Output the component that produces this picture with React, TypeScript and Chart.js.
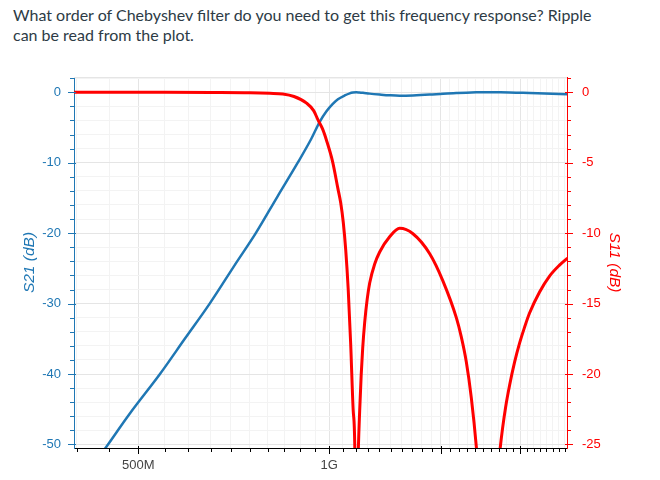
import React, { useEffect, useRef } from 'react';
import { Chart, registerables } from 'chart.js';

Chart.register(...registerables);

// ---- Data (frequency in GHz, levels in dB) ----
const s21Freq = [0.44, 0.448, 0.485, 0.541, 0.592, 0.648, 0.71, 0.766, 0.83, 0.892, 0.937, 0.966, 0.99, 1.013, 1.032, 1.058, 1.077, 1.09, 1.103, 1.115, 1.13, 1.158, 1.201, 1.245, 1.291, 1.355, 1.44, 1.511, 1.586, 1.645, 1.705, 1.777, 1.86, 1.924, 1.995, 2.069, 2.185, 2.372];
const s21dB = [-51, -50, -45.6, -40, -35, -30, -24.5, -20, -14.7, -10, -6.6, -4.2, -2.7, -1.65, -1.0, -0.45, -0.15, -0.04, 0, -0.03, -0.08, -0.19, -0.32, -0.43, -0.49, -0.45, -0.33, -0.2, -0.11, -0.05, -0.01, 0, -0.01, -0.03, -0.07, -0.11, -0.19, -0.29];

const s11Freq = [0.396, 0.55, 0.65, 0.75, 0.806, 0.845, 0.88, 0.921, 0.945, 0.96, 0.976, 0.99, 1.012, 1.032, 1.0426, 1.0521, 1.0617, 1.0713, 1.081, 1.0909, 1.098, 1.103, 1.1075, 1.1108, 1.1168, 1.1229, 1.1291, 1.1374, 1.1477, 1.1581, 1.1793, 1.2009, 1.2451, 1.2912, 1.355, 1.44, 1.511, 1.586, 1.6152, 1.6449, 1.6749, 1.7056, 1.723, 1.777, 1.8223, 1.8424, 1.8604, 1.876, 1.8967, 1.9243, 1.9594, 1.9953, 2.032, 2.069, 2.1456, 2.2247, 2.3067, 2.3745];
const s11dB = [0, 0, -0.01, -0.03, -0.07, -0.12, -0.3, -0.77, -1.3, -1.96, -2.6, -3.4, -4.9, -6.84, -7.86, -9.21, -11.2, -14.0, -17.9, -22.6, -26.2, -45, -29, -25.76, -22.6, -20.08, -18.16, -16.31, -14.68, -13.54, -12.19, -11.34, -10.26, -9.66, -10.04, -11.46, -13.4, -16.0, -17.38, -19.16, -21.71, -25.19, -27.89, -60, -29.7, -27.1, -25.19, -23.84, -22.35, -20.8, -19.16, -17.81, -16.67, -15.67, -14.18, -13.05, -12.27, -11.77];

// ---- Axis ticks ----
const xMajorTicks = [0.5, 1, 1.5, 2];
const xTickLabels = ['500M', '1G', '', ''];
const xMinorStep = 0.05;
const xMinorFirst = 0.4;
const xMinorLast = 2.35;
const s21MajorStep = 10;
const s21MinorStep = 2;
const s11MajorStep = 5;
const s11MinorStep = 1;

const BLUE = '#1f77b4';
const RED = '#ff0000';
const FONT = "'Liberation Sans', Arial, Helvetica, sans-serif";

const xTicks: number[] = [];
for (let i = Math.round(xMinorFirst / xMinorStep); i <= Math.round(xMinorLast / xMinorStep); i++) {
  xTicks.push(Math.round(i * xMinorStep * 100) / 100);
}
const isXMajor = (v: number) => xMajorTicks.some((m) => Math.abs(m - v) < 1e-6);
const xLabel = (v: number) => {
  const i = xMajorTicks.findIndex((m) => Math.abs(m - v) < 1e-6);
  return i >= 0 ? xTickLabels[i] : '';
};
const rangeTicks = (lo: number, hi: number, step: number) => {
  const out: number[] = [];
  for (let v = lo; v <= hi + 1e-9; v += step) out.push(Math.round(v * 1000) / 1000);
  return out;
};
const s21Ticks = rangeTicks(-50, 2, s21MinorStep);
const s11Ticks = rangeTicks(-25, 1, s11MinorStep);

const decor = {
  id: 'decor',
  beforeDatasetsDraw(chart: any) {
    const { ctx, chartArea: a } = chart;
    ctx.save();
    ctx.strokeStyle = '#e5e5e5';
    ctx.lineWidth = 1;
    ctx.beginPath();
    ctx.moveTo(a.left, Math.round(a.top) + 0.5);
    ctx.lineTo(a.right, Math.round(a.top) + 0.5);
    ctx.stroke();
    ctx.restore();
  },
  afterDraw(chart: any) {
    const { ctx, chartArea: a, scales } = chart;
    const seg = (x1: number, y1: number, x2: number, y2: number) => {
      ctx.beginPath();
      ctx.moveTo(x1, y1);
      ctx.lineTo(x2, y2);
      ctx.stroke();
    };
    ctx.save();
    ctx.lineWidth = 1;
    ctx.strokeStyle = '#000';
    const xs = scales.x;
    const by = Math.round(a.bottom);
    xs.ticks.forEach((t: any) => {
      const px = Math.round(xs.getPixelForValue(t.value)) + 0.5;
      const major = isXMajor(t.value);
      seg(px, by - (major ? 2 : 0), px, by + (major ? 6 : 4));
    });
    ctx.strokeStyle = BLUE;
    const ys = scales.y;
    const lx = Math.round(a.left);
    ys.ticks.forEach((t: any) => {
      const py = Math.round(ys.getPixelForValue(t.value)) + 0.5;
      const major = t.value % s21MajorStep === 0;
      seg(lx + (major ? 2 : 0), py, lx - (major ? 6 : 4), py);
    });
    ctx.strokeStyle = RED;
    const y1 = scales.y1;
    const rx = Math.round(a.right);
    y1.ticks.forEach((t: any) => {
      const py = Math.round(y1.getPixelForValue(t.value)) + 0.5;
      const major = t.value % s11MajorStep === 0;
      seg(rx - (major ? 2 : 0), py, rx + (major ? 6 : 4), py);
    });
    ctx.restore();
  },
};

export default function App() {
  const ref = useRef<HTMLCanvasElement | null>(null);

  useEffect(() => {
    if (!ref.current) return;
    const chart = new Chart(ref.current, {
      type: 'line',
      data: {
        datasets: [
          {
            label: 'S11',
            data: s11Freq.map((f, i) => ({ x: f, y: s11dB[i] })),
            yAxisID: 'y1',
            borderColor: RED,
            borderWidth: 3,
            pointRadius: 0,
            fill: false,
            cubicInterpolationMode: 'monotone',
            clip: 0,
            order: 0,
          },
          {
            label: 'S21',
            data: s21Freq.map((f, i) => ({ x: f, y: s21dB[i] })),
            yAxisID: 'y',
            borderColor: BLUE,
            borderWidth: 2.5,
            pointRadius: 0,
            fill: false,
            cubicInterpolationMode: 'monotone',
            clip: 0,
            order: 1,
          },
        ],
      },
      options: {
        animation: false,
        responsive: false,
        maintainAspectRatio: false,
        layout: { padding: { top: 77, left: 0, right: 0, bottom: 0 } },
        plugins: {
          legend: { display: false },
          tooltip: { enabled: false },
          title: { display: false },
        },
        scales: {
          x: {
            type: 'logarithmic',
            position: 'bottom',
            min: 0.396,
            max: 2.37,
            afterBuildTicks: (s: any) => {
              s.ticks = xTicks.map((v) => ({ value: v }));
            },
            afterFit: (s: any) => {
              s.height = 32;
            },
            ticks: {
              autoSkip: false,
              maxRotation: 0,
              minRotation: 0,
              padding: 10,
              color: '#444444',
              font: { family: FONT, size: 13 },
              callback: (v: any) => xLabel(Number(v)),
            },
            grid: {
              drawTicks: false,
              color: (c: any) => (c.tick && isXMajor(c.tick.value) ? '#e5e5e5' : '#f3f3f3'),
              lineWidth: 1,
            },
            border: { display: true, color: '#000', width: 1 },
          },
          y: {
            type: 'linear',
            position: 'left',
            bounds: 'data',
            min: -50.5,
            max: 2.17,
            afterBuildTicks: (s: any) => {
              s.ticks = s21Ticks.map((v) => ({ value: v }));
            },
            afterFit: (s: any) => {
              s.width = 74;
            },
            ticks: {
              autoSkip: false,
              padding: 13,
              color: BLUE,
              font: { family: FONT, size: 13 },
              callback: (v: any) => (Number(v) % s21MajorStep === 0 ? String(v) : ''),
            },
            grid: {
              drawTicks: false,
              color: (c: any) => (c.tick && c.tick.value % s21MajorStep === 0 ? '#e5e5e5' : '#f3f3f3'),
            },
            border: { display: true, color: BLUE, width: 1 },
            title: {
              display: true,
              text: 'S21 (dB)',
              color: BLUE,
              font: { family: FONT, size: 15.5, style: 'italic' },
              padding: { top: 20, bottom: 0 },
            },
          },
          y1: {
            type: 'linear',
            position: 'right',
            bounds: 'data',
            min: -25.25,
            max: 1.085,
            afterBuildTicks: (s: any) => {
              s.ticks = s11Ticks.map((v) => ({ value: v }));
            },
            afterFit: (s: any) => {
              s.width = 93;
            },
            ticks: {
              autoSkip: false,
              padding: 15,
              color: RED,
              font: { family: FONT, size: 13 },
              callback: (v: any) => (Number(v) % s11MajorStep === 0 ? String(v) : ''),
            },
            grid: { display: false, drawTicks: false },
            border: { display: true, color: RED, width: 1 },
            title: {
              display: true,
              text: 'S11 (dB)',
              color: RED,
              font: { family: FONT, size: 15.5, style: 'italic' },
              padding: { top: 36.5, bottom: 0 },
            },
          },
        },
      } as any,
      plugins: [decor],
    });
    return () => chart.destroy();
  }, []);

  return (
    <div style={{ position: 'absolute', left: 0, top: 0, width: 660, height: 480, background: '#fff' }}>
      <div
        style={{
          position: 'absolute',
          left: 13,
          top: 5,
          fontFamily: 'Lato, sans-serif',
          fontSize: 16,
          lineHeight: '19.5px',
          color: '#2d3b45',
          whiteSpace: 'nowrap',
        }}
      >
        What order of Chebyshev filter do you need to get this frequency response? Ripple
        <br />
        can be read from the plot.
      </div>
      <canvas ref={ref} width={660} height={480} style={{ position: 'absolute', left: 0, top: 0, width: 660, height: 480 }} />
    </div>
  );
}
